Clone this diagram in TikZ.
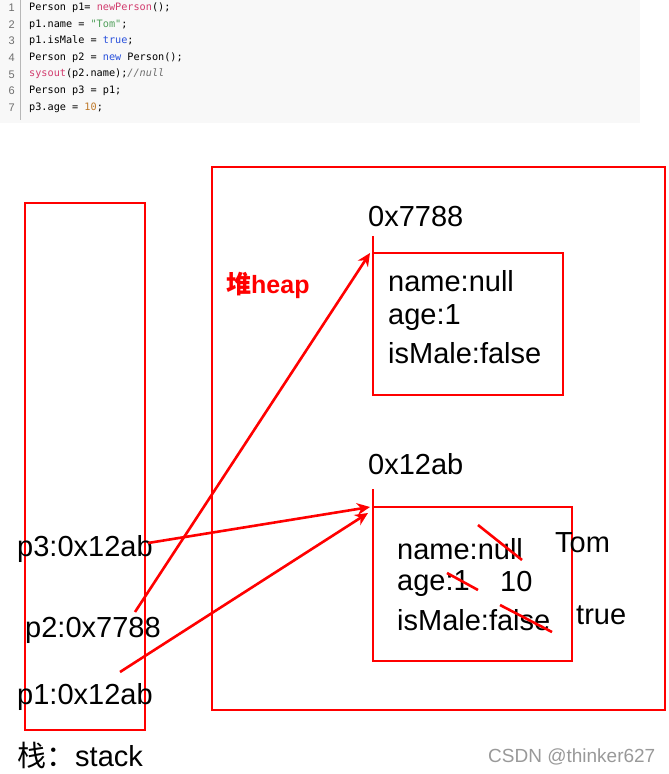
\documentclass[tikz,border=0pt]{standalone}
\usepackage{fontspec}
\setmainfont{Liberation Sans}
\setmonofont{DejaVu Sans Mono}
\newfontfamily\cjk{Noto Sans CJK SC}
\usetikzlibrary{arrows.meta}
\definecolor{codebg}{RGB}{248,248,248}
\definecolor{kwpink}{RGB}{210,60,110}
\definecolor{kwgreen}{RGB}{80,160,90}
\definecolor{kwblue}{RGB}{40,80,220}
\definecolor{kwnum}{RGB}{190,120,40}
\definecolor{lnum}{RGB}{110,110,110}
\tikzset{
  box/.style={draw=red, line width=1.5pt},
  big/.style={inner sep=0pt, anchor=west, font=\fontsize{29}{33}\selectfont},
  code/.style={inner sep=0pt, anchor=west, font=\ttfamily\fontsize{10.2}{12}\selectfont},
  lno/.style={inner sep=0pt, anchor=east, text=lnum, font=\fontsize{11}{12}\selectfont},
  ptr/.style={draw=red, line width=2.6pt, -{Stealth[length=13pt,width=12pt]}},
  strike/.style={draw=red, line width=2.6pt}
}
\begin{document}
\begin{tikzpicture}[x=1pt, y=-1pt]
  \useasboundingbox (0,0) rectangle (669,774);
  % code block
  \fill[codebg] (0,0) rectangle (640,123);
  \draw[lnum!50, line width=1pt] (20,0) -- (20,120);
  \foreach \n in {1,...,7} \node[lno] at (15,{8+\n*16.6-16.6}) {\n};
  \node[code] (c1) at (29,8) {Person p1= \textcolor{kwpink}{newPerson}();};
  \node[code] (c2) at (29,25) {p1.name = \textcolor{kwgreen}{"Tom"};};
  \node[code] (c3) at (29,41) {p1.isMale = \textcolor{kwblue}{true};};
  \node[code] (c4) at (29,58) {Person p2 = \textcolor{kwblue}{new} Person();};
  \node[code] (c5) at (29,74) {\textcolor{kwpink}{sysout}(p2.name);\textcolor{lnum}{\itshape//null}};
  \node[code] (c6) at (29,91) {Person p3 = p1;};
  \node[code] (c7) at (29,108) {p3.age = \textcolor{kwnum}{10};};
  % stack and heap
  \draw[box] (25,203) rectangle (145,730);
  \draw[box] (212,167) rectangle (665,710);
  \draw[box] (373,253) rectangle (563,395);
  \draw[box] (373,507) rectangle (572,661);
  \node[inner sep=0pt, anchor=west, text=red, font=\bfseries\fontsize{25}{28}\selectfont] (heap) at (226,285) {{\cjk 堆}heap};
  % addresses
  \node[big] (a1) at (368,217) {0x7788};
  \node[big] (a2) at (368,464) {0x12ab};
  \coordinate (t1) at (373,256);
  \coordinate (t2) at (373,508);
  \draw[red, line width=2.6pt] (373,236) -- (t1);
  \draw[red, line width=2.6pt] (373,489) -- (t2);
  % object fields
  \node[big] (f11) at (388,281) {name:null};
  \node[big] (f12) at (388,318) {age:1};
  \node[big] (f13) at (388,353) {isMale:false};
  \node[big] (f21) at (397,549) {name:null};
  \node[big] (f22) at (397,584) {age:1};
  \node[big] (f23) at (397,620) {isMale:false};
  \node[big] (tom) at (555,543) {Tom};
  \node[big] (ten) at (500,582) {10};
  \node[big] (tru) at (576,615) {true};
  \draw[strike] (478,525) -- (522,560);
  \draw[strike] (447,573) -- (478,590);
  \draw[strike] (500,605) -- (552,632);
  % stack variables
  \node[big] (p3) at (17,549) {p3:0x12ab};
  \node[big] (p2) at (25,630) {p2:0x7788};
  \node[big] (p1) at (17,697) {p1:0x12ab};
  \node[big] (stk) at (17,755) {{\cjk 栈：}stack};
  % references
  \draw[ptr] (148,543) -- (370,507);
  \draw[ptr] (135,612) -- (370,253);
  \draw[ptr] (120,672) -- (368,513);
  \node[inner sep=0pt, anchor=west, text=gray!80, font=\fontsize{19}{21}\selectfont] (wm) at (488,757) {CSDN @thinker627};
\end{tikzpicture}
\end{document}
